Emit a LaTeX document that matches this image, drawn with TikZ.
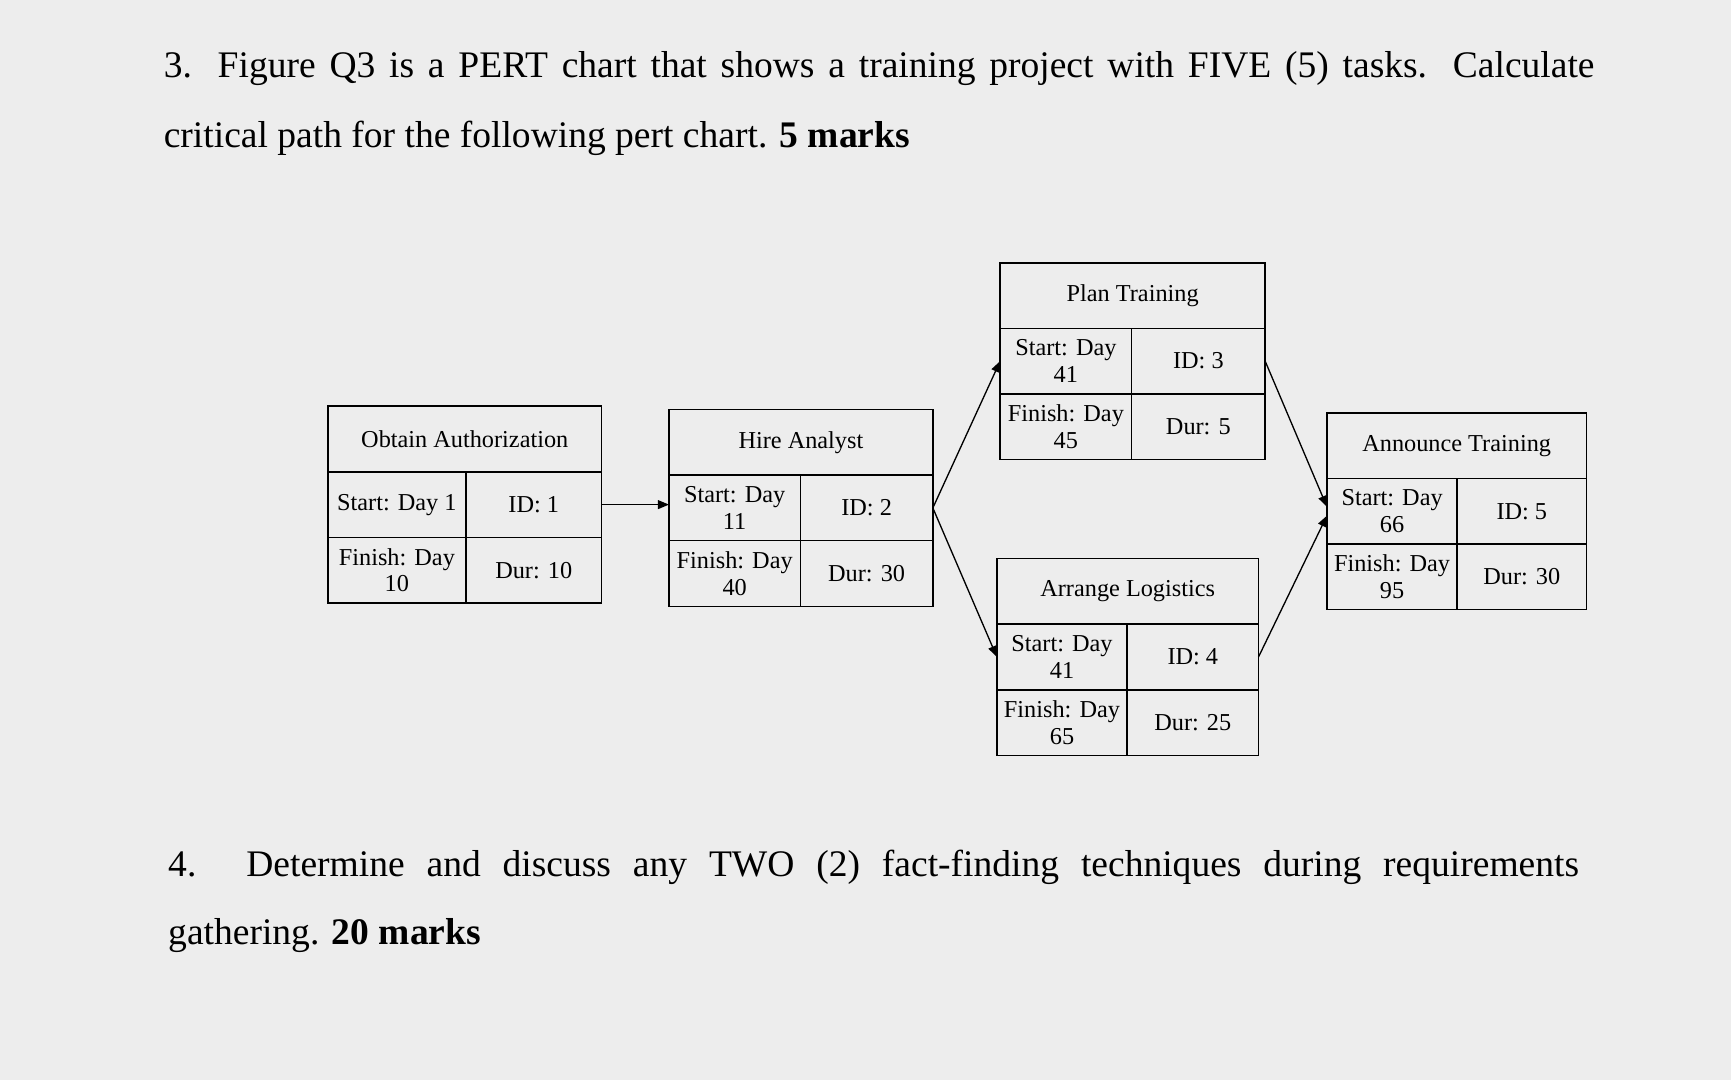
\documentclass[tikz,border=0pt]{standalone}
\usepackage{fontspec}
\setmainfont{Liberation Serif}
\usetikzlibrary{arrows.meta}
\newcommand\pbox[9]{% name, x0, y0, xsplit, x1, title, start, finish, id
  \node[cell,minimum width={(#5-#2)*0.5pt},anchor=north west] (#1t) at (#2,#3) {#6};
  \node[cell,minimum width={(#4-#2)*0.5pt},anchor=north west] (#1s) at (#1t.south west) {#7};
  \node[cell,minimum width={(#5-#4)*0.5pt},anchor=north east] (#1i) at (#1t.south east) {ID: #9};
  \node[cell,minimum width={(#4-#2)*0.5pt},anchor=north west] (#1f) at (#1s.south west) {#8};
}
\begin{document}
\begin{tikzpicture}[x=0.5pt,y=-0.5pt,
  cell/.style={draw,line width=0.7pt,outer sep=0pt,minimum height=29.7pt,inner sep=1pt,align=center,font=\fontsize{11}{12}\selectfont},
  q/.style={anchor=west,inner sep=0pt,font=\fontsize{17}{20}\selectfont},
  conn/.style={line width=0.6pt,-{Triangle[length=5pt,width=4pt]}}]
\fill[gray!14] (0,0) rectangle (1568,978);
\useasboundingbox (0,0) rectangle (1568,978);
\node[q] (q3a) at (148,62) {\makebox[648pt][s]{3. Figure Q3 is a PERT chart that shows a training project with FIVE (5) tasks. Calculate}};
\node[q] (q3b) at (148,125) {critical path for the following pert chart. \textbf{5 marks}};
\node[q] (q4a) at (152,786) {\makebox[639pt][s]{4. Determine and discuss any TWO (2) fact-finding techniques during requirements}};
\node[q] (q4b) at (152,847) {gathering. \textbf{20 marks}};
\newcommand\durcell[3]{\node[cell,minimum width={(#3)*0.5pt},anchor=north east] (#1d) at (#1i.south east) {Dur: #2};}
\pbox{a}{297}{368}{422}{545}{Obtain Authorization}{Start: Day 1}{Finish: Day\\10}{1}\durcell{a}{10}{123}
\pbox{b}{606}{371}{725}{845}{Hire Analyst}{Start: Day\\11}{Finish: Day\\40}{2}\durcell{b}{30}{120}
\pbox{c}{906}{238}{1025}{1146}{Plan Training}{Start: Day\\41}{Finish: Day\\45}{3}\durcell{c}{5}{121}
\pbox{d}{903}{506}{1021}{1140}{Arrange Logistics}{Start: Day\\41}{Finish: Day\\65}{4}\durcell{d}{25}{119}
\pbox{e}{1202}{374}{1320}{1437}{Announce Training}{Start: Day\\66}{Finish: Day\\95}{5}\durcell{e}{30}{117}
\draw[conn] (ai.east) -- (ai.east -| bs.west);
\draw[conn] (bi.east) -- (cs.west);
\draw[conn] (bi.east) -- (ds.west);
\draw[conn] (ci.east) -- ([yshift=2pt]es.west);
\draw[conn] (di.east) -- ([yshift=-2pt]es.west);
\end{tikzpicture}
\end{document}
